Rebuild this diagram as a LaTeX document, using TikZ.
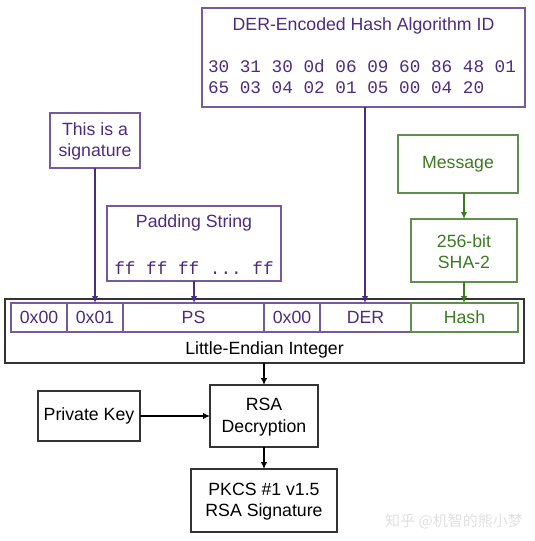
\documentclass[tikz,border=0pt]{standalone}
\usepackage{fontspec}
\setmainfont{Liberation Sans}
\setmonofont{Liberation Mono}
\newfontfamily\cjkfont{Noto Sans CJK SC}
\usetikzlibrary{arrows.meta,calc}
\definecolor{ptext}{HTML}{4B2C83}
\definecolor{pline}{HTML}{7559A2}
\definecolor{gtext}{HTML}{3C7A22}
\definecolor{gline}{HTML}{608E4C}
\definecolor{kline}{HTML}{333333}
\tikzset{
  every node/.style={font=\fontsize{17.7}{21.5}\selectfont, inner sep=0pt, outer sep=0pt},
  pbox/.style={draw=pline, line width=1.4pt, text=ptext, align=center},
  gbox/.style={draw=gline, line width=1.4pt, text=gtext, align=center},
  kbox/.style={draw=kline, line width=1.4pt, text=black, align=center},
  ptxt/.style={text=ptext},
  mono/.style={text=ptext, font=\fontsize{17.7}{21}\ttfamily, align=left},
  parr/.style={draw=ptext, line width=1.4pt, -{Latex[length=7pt,width=6.5pt]}},
  garr/.style={draw=gtext, line width=1.4pt, -{Latex[length=7pt,width=6.5pt]}},
  karr/.style={draw=black, line width=1.3pt, -{Latex[length=7pt,width=6.5pt]}},
}
\begin{document}
\begin{tikzpicture}[x=1pt,y=-1pt]
\useasboundingbox (0,0) rectangle (535,541);

% DER box
\node[pbox, minimum width=323pt, minimum height=99pt] (der) at (363.5,57.5) {};
\node[ptxt] (dertitle) at (363.5,26) {DER-Encoded Hash Algorithm ID};
\node[mono, anchor=west] (derhex) at (208,77) {30 31 30 0d 06 09 60 86 48 01\\65 03 04 02 01 05 00 04 20};
\coordinate (derx) at (365,0);

% signature label box
\node[pbox, minimum width=90pt, minimum height=55pt] (sig) at (95,140.5) {\strut This is a\\signature};

% padding string box
\node[pbox, minimum width=174pt, minimum height=75pt] (pad) at (194,243.5) {};
\node[ptxt] (padtitle) at (194,223) {Padding String};
\node[mono] (padff) at (194,268) {ff ff ff ... ff};

% message and hash
\node[gbox, minimum width=120pt, minimum height=58pt] (msg) at (458,164) {Message};
\node[gbox, minimum width=106pt, minimum height=63pt] (sha) at (464,250.5) {\strut 256-bit\\SHA-2};

% integer container
\node[kbox, minimum width=519pt, minimum height=64pt] (outer) at (264.5,331) {};
\node (lei) at (264.5,350) {Little-Endian Integer};

% cells
\node[pbox, minimum width=56pt, minimum height=29pt] (c1) at (39,317.5) {0x00};
\node[pbox, minimum width=56pt, minimum height=29pt] (c2) at (95,317.5) {0x01};
\node[pbox, minimum width=141pt, minimum height=29pt] (c3) at (193.5,317.5) {PS};
\node[pbox, minimum width=56pt, minimum height=29pt] (c4) at (292,317.5) {0x00};
\node[pbox, minimum width=91pt, minimum height=29pt] (c5) at (365.5,317.5) {DER};
\node[gbox, minimum width=107pt, minimum height=29pt] (c6) at (464.5,317.5) {Hash};

% lower boxes
\node[kbox, minimum width=102pt, minimum height=50pt] (pk) at (89,416) {Private Key};
\node[kbox, minimum width=108pt, minimum height=62pt] (rsa) at (264,416) {\strut RSA\\Decryption};
\node[kbox, minimum width=146pt, minimum height=63pt] (pkcs) at (264,500.5) {\strut PKCS \#1 v1.5\\RSA Signature};

% watermark
\node[text=black!12, font=\fontsize{15}{18}\cjkfont] (wm) at (454,521) {知乎 @机智的熊小梦};

% connectors
\draw[parr] (sig.south) -- (c2.north);
\draw[parr] (pad.south) -- (c3.north -| pad.south);
\draw[parr] (der.south -| derx) -- (c5.north -| derx);
\draw[garr] (msg.south -| sha.north) -- (sha.north);
\draw[garr] (sha.south) -- (c6.north -| sha.south);
\draw[karr] (outer.south -| rsa.north) -- (rsa.north);
\draw[karr] (pk.east) -- (rsa.west);
\draw[karr] (rsa.south) -- (pkcs.north -| rsa.south);
\end{tikzpicture}
\end{document}
